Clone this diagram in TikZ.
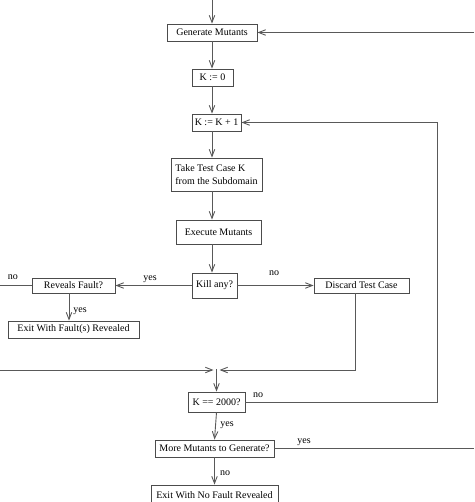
\documentclass[tikz,border=0pt]{standalone}
\usepackage{fontspec}
\setmainfont{Liberation Serif}
\usetikzlibrary{arrows.meta}
\tikzset{
  box/.style={draw=black!70, line width=0.9pt, inner sep=1pt, minimum height=17pt,
    font=\fontsize{10}{12.5}\selectfont},
  arr/.style={draw=black!65, line width=0.9pt, -{Straight Barb[length=7pt,width=5.5pt]}},
  ln/.style={draw=black!65, line width=0.9pt},
  lbl/.style={font=\fontsize{10}{12.5}\selectfont, inner sep=0pt}
}
\begin{document}
\begin{tikzpicture}[x=1pt, y=-1pt]
      \useasboundingbox (0,0) rectangle (474,502);
      \clip (0,0) rectangle (474,502);
      \node[box, minimum width=90] (gen) at (212,32.5) {Generate Mutants};
      \node[box, minimum width=41] (kzero) at (212.5,77.5) {K := 0};
      \node[box, minimum width=49] (kinc) at (216.5,122.5) {K := K + 1};
      \node[box, minimum width=91, minimum height=33, align=left] (take) at (216.5,174.5) {Take Test Case K\\from the Subdomain};
      \node[box, minimum width=85, minimum height=24] (exec) at (218.5,232) {Execute Mutants};
      \node[box, minimum width=45, minimum height=25] (kill) at (214.5,285.5) {Kill any?};
      \node[box, minimum width=83, minimum height=15] (reveal) at (73.5,285.5) {Reveals Fault?};
      \node[box, minimum width=95, minimum height=15] (discard) at (361.5,285.5) {Discard Test Case};
      \node[box, minimum width=131] (exitf) at (73.5,329.5) {Exit With Fault(s) Revealed};
      \node[box, minimum width=57, minimum height=20] (kmax) at (216.5,402) {K == 2000?};
      \node[box, minimum width=119] (more) at (214.5,448.5) {More Mutants to Generate?};
      \node[box, minimum width=127, minimum height=20] (exitn) at (214.5,495) {Exit With No Fault Revealed};
      \coordinate (axis) at (212,0);
      \coordinate (rin) at (474,32.5);
      \coordinate (rloop) at (437,0);
      \coordinate (lout) at (0,285.5);
      \coordinate (lin) at (0,370);
      \coordinate (merge) at (216.5,370);
      \coordinate (rout) at (474,448.5);
      % main column
      \draw[arr] (axis) -- (gen.north -| axis);
      \draw[arr] (gen.south -| axis) -- (kzero.north -| axis);
      \draw[arr] (kzero.south -| axis) -- (kinc.north -| axis);
      \draw[arr] (kinc.south -| axis) -- (take.north -| axis);
      \draw[arr] (take.south -| axis) -- (exec.north -| axis);
      \draw[arr] (exec.south -| axis) -- (kill.north -| axis);
      \draw[arr] (rin) -- (gen.east);
      % branches of Kill any?
      \draw[arr] (kill.west) -- (reveal.east);
      \node[lbl] at (150,279) {yes};
      \draw[arr] (kill.east) -- (discard.west);
      \node[lbl] at (274,273) {no};
      \draw[ln] (reveal.west) -- (lout);
      \node[lbl] at (13,277) {no};
      \draw[arr] ([xshift=-4.5pt]reveal.south) -- ([xshift=-4.5pt]reveal.south |- exitf.north);
      \node[lbl] at (80,311) {yes};
      \draw[arr] ([xshift=-6.5pt]discard.south) |- ([xshift=3pt]merge);
      \draw[arr] (lin) -- ([xshift=-3pt]merge);
      \draw[arr] ([yshift=1pt]merge) -- (kmax.north);
      % loop back
      \draw[arr] (kmax.east) -| (rloop |- kinc.east) -- (kinc.east);
      \node[lbl] at (258,395) {no};
      \draw[arr] (kmax.south) -- (more.north);
      \node[lbl] at (227,425) {yes};
      \draw[ln] (more.east) -- (rout);
      \node[lbl] at (304,442) {yes};
      \draw[arr] (more.south) -- (exitn.north);
      \node[lbl] at (225,473) {no};
    \end{tikzpicture}
\end{document}
